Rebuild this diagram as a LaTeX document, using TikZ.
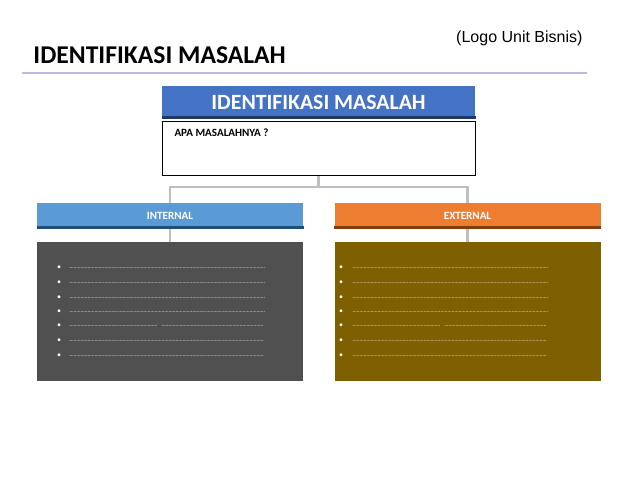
\documentclass[tikz,border=0pt]{standalone}
\usepackage{fontspec}
\setmainfont{Carlito}
\newfontfamily\logofont{Liberation Sans}
\usetikzlibrary{positioning}

\definecolor{hdrblue}{RGB}{68,114,196}
\definecolor{hdrline}{RGB}{32,56,100}
\definecolor{intblue}{RGB}{91,155,213}
\definecolor{intline}{RGB}{31,78,121}
\definecolor{extorange}{RGB}{237,125,49}
\definecolor{extline}{RGB}{132,60,12}
\definecolor{darkbox}{RGB}{80,80,80}
\definecolor{olivebox}{RGB}{127,96,0}
\definecolor{conngray}{RGB}{191,191,191}
\definecolor{rulelav}{RGB}{196,182,228}

% row of leader dots of a given width
\newcommand{\dotrow}[1]{\hbox to #1{\leaders\hbox to 1.05pt{\hss.\hss}\hfill}}

\tikzset{every picture/.style={line width=0.75pt}}
\tikzset{
  hdrbox/.style={fill=hdrblue, minimum width=234.75pt, minimum height=24pt, inner sep=0pt, text=white, font=\bfseries\fontsize{16.3}{18}\selectfont},
  askbox/.style={draw=black, fill=white, line width=0.75pt, minimum width=234.75pt, minimum height=40.5pt, inner sep=0pt},
  barbox/.style={minimum width=199.5pt, minimum height=18.75pt, inner sep=0pt, text=white, font=\bfseries\fontsize{8.3}{10}\selectfont},
  listbox/.style={minimum width=199.5pt, minimum height=104.25pt, inner sep=0pt},
  conn/.style={draw=conngray, line width=2},
  dotline/.style={anchor=west, inner sep=0pt, text=white, text opacity=0.75, font=\fontsize{5}{5}\selectfont},
  bulletmark/.style={inner sep=0pt, text=white, font=\fontsize{6}{6}\selectfont},
}

\begin{document}
\begin{tikzpicture}[x=0.75pt,y=0.75pt,yscale=-1,xscale=1]
\useasboundingbox (0,0) rectangle (638,478);

% Text Node
\node [anchor=base west, inner sep=0pt, font=\bfseries\fontsize{19.2}{22}\selectfont] (title) at (33,64) {IDENTIFIKASI MASALAH};
% Text Node
\node [anchor=base east, inner sep=0pt, font=\logofont\fontsize{12}{14}\selectfont] (logo) at (583,43) {(Logo Unit Bisnis)};
%Straight Lines
\draw [rulelav, line width=1] (22,73) -- (587,73);

%Shape: Rectangle
\node [hdrbox] (hdr) at (318.5,102) {IDENTIFIKASI MASALAH};
\node [askbox, anchor=north] (ask) at (318.5,121) {};
\node [anchor=base west, inner sep=0pt, font=\bfseries\fontsize{8.3}{10}\selectfont] (asktxt) at (174,136) {APA MASALAHNYA ?};

%Shape: Rectangle
\node [barbox, fill=intblue] (int) at (170,215.5) {INTERNAL};
\node [barbox, fill=extorange] (ext) at (467.5,215.5) {EXTERNAL};
\node [listbox, fill=darkbox] (intbox) at (170,311.5) {};
\node [listbox, fill=olivebox] (extbox) at (467.5,311.5) {};

% connectors
\coordinate (bus) at (318.5,187);
\draw [conn] (ask.south) -- (bus) -| (int.north);
\draw [conn] (bus) -| (ext.north);
\draw [conn] (int.south) -- (intbox.north);
\draw [conn] (ext.south) -- (extbox.north);

% dark under-lines
\draw [hdrline, line width=2.25pt] ([yshift=-1.1pt]hdr.south west) -- ([yshift=-1.1pt]hdr.south east);
\draw [intline, line width=1.9pt] ([yshift=-0.75pt]int.south west) -- ([yshift=-0.75pt]int.south east);
\draw [extline, line width=1.9pt] ([yshift=-0.75pt]ext.south west) -- ([yshift=-0.75pt]ext.south east);

% bullet lists
\foreach \bx/\lx in {59/69, 341/352} {
  \foreach \y in {268,283,298,312,326,341,356}
    \node [bulletmark] at (\bx,\y) {\textbullet};
  \foreach \y in {268,283,298,312}
    \node [dotline] at (\lx,\y) {\dotrow{147.5pt}};
  \foreach \y in {341,356}
    \node [dotline] at (\lx,\y) {\dotrow{146.25pt}};
  \node [dotline] at (\lx,326) {\dotrow{66.75pt}};
  \node [dotline] at (\lx+92,326) {\dotrow{77.25pt}};
}

\end{tikzpicture}
\end{document}
